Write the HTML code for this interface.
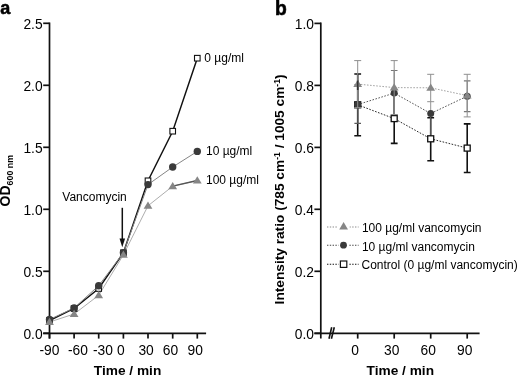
<!DOCTYPE html>
<html><head><meta charset="utf-8"><title>Figure</title>
<style>html,body{margin:0;padding:0;background:#fff}body{width:517px;height:375px;overflow:hidden}svg{display:block}text{font-family:"Liberation Sans", sans-serif;fill:#000}</style>
</head><body>
<svg width="517" height="375" viewBox="0 0 517 375">
<rect width="517" height="375" fill="#fff"/>
<text x="0.2" y="14.4" font-size="18" font-weight="bold" fill="#000" stroke="#000" stroke-width="0.5">a</text>
<g stroke="#111" stroke-width="1.7" fill="none">
<path d="M49.5 22.5V338.6"/>
<path d="M43.2 333.3H206.1"/>
<path d="M43.2 333.3H49.5"/>
<path d="M43.2 271.3H49.5"/>
<path d="M43.2 209.3H49.5"/>
<path d="M43.2 147.3H49.5"/>
<path d="M43.2 85.3H49.5"/>
<path d="M43.2 23.3H49.5"/>
<path d="M49.5 333.3V338.6"/>
<path d="M74.1 333.3V338.6"/>
<path d="M98.7 333.3V338.6"/>
<path d="M123.4 333.3V338.6"/>
<path d="M148.0 333.3V338.6"/>
<path d="M172.7 333.3V338.6"/>
<path d="M197.3 333.3V338.6"/>
</g>
<text x="42.6" y="338.8" font-size="13.8" text-anchor="end">0.0</text>
<text x="42.6" y="276.8" font-size="13.8" text-anchor="end">0.5</text>
<text x="42.6" y="214.8" font-size="13.8" text-anchor="end">1.0</text>
<text x="42.6" y="152.8" font-size="13.8" text-anchor="end">1.5</text>
<text x="42.6" y="90.8" font-size="13.8" text-anchor="end">2.0</text>
<text x="42.6" y="28.8" font-size="13.8" text-anchor="end">2.5</text>
<text x="49.5" y="354.8" font-size="13.8" text-anchor="middle">-90</text>
<text x="78.0" y="354.8" font-size="13.8" text-anchor="middle">-60</text>
<text x="103.0" y="354.8" font-size="13.8" text-anchor="middle">-30</text>
<text x="120.9" y="354.8" font-size="13.8" text-anchor="middle">0</text>
<text x="146.1" y="354.8" font-size="13.8" text-anchor="middle">30</text>
<text x="170.4" y="354.8" font-size="13.8" text-anchor="middle">60</text>
<text x="195.2" y="354.8" font-size="13.8" text-anchor="middle">90</text>
<text x="93.8" y="374.5" font-size="13.7" font-weight="bold">Time / min</text>
<text transform="translate(10.1,206.4) rotate(-90)" font-size="14" font-weight="bold">OD<tspan font-size="8.9" dy="3.1">600 nm</tspan></text>
<polyline points="49.5,320.5 74.1,308.5 98.7,288.5 123.4,252.8 148.0,180.8 172.7,131.2 197.3,58.2" fill="none" stroke="#111" stroke-width="1.45"/>
<polyline points="49.5,319.5 74.1,308.0 98.7,285.7 123.4,252.8 148.0,184.6 172.7,167.0 197.3,151.4" fill="none" stroke="#858585" stroke-width="1"/>
<polyline points="49.5,322.0 74.1,314.0 98.7,295.3 123.4,254.8 148.0,205.8 172.7,186.2 197.3,180.5" fill="none" stroke="#a4a4a4" stroke-width="0.9"/>
<path d="M172.7 186.2L197.3 180.5" stroke="#555" stroke-width="1.3" fill="none"/>
<rect x="46.7" y="317.7" width="5.6" height="5.6" fill="#fff" stroke="#111" stroke-width="1.1"/>
<rect x="71.3" y="305.7" width="5.6" height="5.6" fill="#fff" stroke="#111" stroke-width="1.1"/>
<rect x="95.9" y="285.7" width="5.6" height="5.6" fill="#fff" stroke="#111" stroke-width="1.1"/>
<rect x="120.6" y="250.0" width="5.6" height="5.6" fill="#fff" stroke="#111" stroke-width="1.1"/>
<rect x="145.2" y="178.0" width="5.6" height="5.6" fill="#fff" stroke="#111" stroke-width="1.1"/>
<rect x="169.9" y="128.4" width="5.6" height="5.6" fill="#fff" stroke="#111" stroke-width="1.1"/>
<rect x="194.5" y="55.4" width="5.6" height="5.6" fill="#fff" stroke="#111" stroke-width="1.1"/>
<circle cx="49.5" cy="319.5" r="3.7" fill="#3a3a3a"/>
<circle cx="74.1" cy="308.0" r="3.7" fill="#3a3a3a"/>
<circle cx="98.7" cy="285.7" r="3.7" fill="#3a3a3a"/>
<circle cx="123.4" cy="252.8" r="3.7" fill="#3a3a3a"/>
<circle cx="148.0" cy="184.6" r="3.7" fill="#3a3a3a"/>
<circle cx="172.7" cy="167.0" r="3.7" fill="#3a3a3a"/>
<circle cx="197.3" cy="151.4" r="3.7" fill="#3a3a3a"/>
<path d="M49.5 317.7L53.9 325.0H45.1Z" fill="#868686"/>
<path d="M74.1 309.7L78.5 317.0H69.7Z" fill="#868686"/>
<path d="M98.7 291.0L103.1 298.3H94.3Z" fill="#868686"/>
<path d="M123.4 250.5L127.8 257.8H119.0Z" fill="#868686"/>
<path d="M148.0 201.5L152.4 208.8H143.6Z" fill="#868686"/>
<path d="M172.7 181.9L177.1 189.2H168.3Z" fill="#868686"/>
<path d="M197.3 176.2L201.7 183.5H192.9Z" fill="#868686"/>
<text x="204.3" y="61.6" font-size="12">0 µg/ml</text>
<text x="206" y="154.6" font-size="12">10 µg/ml</text>
<text x="206" y="184.1" font-size="12">100 µg/ml</text>
<text x="62.3" y="200.6" font-size="12">Vancomycin</text>
<path d="M122.3 207.8V240" stroke="#111" stroke-width="1.5" fill="none"/>
<path d="M119.5 238.4H125.1L122.3 247.2Z" fill="#111"/>
<text x="275.1" y="14.5" font-size="19.3" font-weight="bold" fill="#000" stroke="#000" stroke-width="0.55">b</text>
<g stroke="#111" stroke-width="1.7" fill="none">
<path d="M320.8 22.5V338.6"/>
<path d="M314.4 333.3H479.6"/>
<path d="M314.4 333.3H320.8"/>
<path d="M314.4 271.3H320.8"/>
<path d="M314.4 209.3H320.8"/>
<path d="M314.4 147.4H320.8"/>
<path d="M314.4 85.4H320.8"/>
<path d="M314.4 23.4H320.8"/>
<path d="M357.7 333.3V338.6"/>
<path d="M394.2 333.3V338.6"/>
<path d="M430.7 333.3V338.6"/>
<path d="M467.2 333.3V338.6"/>
</g>
<g stroke="#111" stroke-width="1.6" fill="none"><path d="M329 338.8L331.7 327.2"/><path d="M331.4 338.8L334.3 327.2"/></g>
<text x="314" y="338.8" font-size="13.8" text-anchor="end">0.0</text>
<text x="314" y="276.8" font-size="13.8" text-anchor="end">0.2</text>
<text x="314" y="214.8" font-size="13.8" text-anchor="end">0.4</text>
<text x="314" y="152.9" font-size="13.8" text-anchor="end">0.6</text>
<text x="314" y="90.9" font-size="13.8" text-anchor="end">0.8</text>
<text x="314" y="28.9" font-size="13.8" text-anchor="end">1.0</text>
<text x="355.2" y="354.8" font-size="13.8" text-anchor="middle">0</text>
<text x="391.7" y="354.8" font-size="13.8" text-anchor="middle">30</text>
<text x="428.2" y="354.8" font-size="13.8" text-anchor="middle">60</text>
<text x="464.7" y="354.8" font-size="13.8" text-anchor="middle">90</text>
<text x="366.6" y="374.5" font-size="13.7" font-weight="bold">Time / min</text>
<text transform="translate(284.1,304.4) rotate(-90)" font-size="13.7" font-weight="bold">Intensity ratio (785 cm<tspan font-size="8.7" dy="-4.5">-1</tspan><tspan dy="4.5"> / 1005 cm</tspan><tspan font-size="8.7" dy="-4.5">-1</tspan><tspan dy="4.5">)</tspan></text>
<path d="M357.7 74.0V135.8M354.3 74.0H361.1M354.3 135.8H361.1" stroke="#111" stroke-width="1.6" fill="none"/>
<path d="M394.2 93.8V143.4M390.8 93.8H397.6M390.8 143.4H397.6" stroke="#111" stroke-width="1.6" fill="none"/>
<path d="M430.7 117.8V160.8M427.3 117.8H434.1M427.3 160.8H434.1" stroke="#111" stroke-width="1.6" fill="none"/>
<path d="M467.2 123.9V172.5M463.8 123.9H470.6M463.8 172.5H470.6" stroke="#111" stroke-width="1.6" fill="none"/>
<polyline points="357.7,104.8 394.2,118.6 430.7,138.8 467.2,148.1" fill="none" stroke="#111" stroke-width="0.9" stroke-dasharray="1.6 1.5"/>
<rect x="354.7" y="101.8" width="6.0" height="6.0" fill="#fff" stroke="#111" stroke-width="1.3"/>
<rect x="391.2" y="115.6" width="6.0" height="6.0" fill="#fff" stroke="#111" stroke-width="1.3"/>
<rect x="427.7" y="135.8" width="6.0" height="6.0" fill="#fff" stroke="#111" stroke-width="1.3"/>
<rect x="464.2" y="145.1" width="6.0" height="6.0" fill="#fff" stroke="#111" stroke-width="1.3"/>
<path d="M357.7 84.8V123.4M354.4 84.8H361.0M354.4 123.4H361.0" stroke="#5a5a5a" stroke-width="1.1" fill="none"/>
<path d="M394.2 70.5V114.5M390.9 70.5H397.5M390.9 114.5H397.5" stroke="#777" stroke-width="1.1" fill="none"/>
<path d="M430.7 101.7V135" stroke="#777" stroke-width="0.8" fill="none"/>
<path d="M467.2 80.9V111.6M463.9 80.9H470.5M463.9 111.6H470.5" stroke="#777" stroke-width="1.1" fill="none"/>
<polyline points="357.7,104.6 394.2,93.1 430.7,113.5 467.2,96.2" fill="none" stroke="#444" stroke-width="0.9" stroke-dasharray="1.6 1.5"/>
<circle cx="357.7" cy="104.6" r="3.5" fill="#3a3a3a"/>
<circle cx="394.2" cy="93.1" r="3.5" fill="#3a3a3a"/>
<circle cx="430.7" cy="113.5" r="3.5" fill="#3a3a3a"/>
<circle cx="467.2" cy="96.2" r="3.5" fill="#3a3a3a"/>
<path d="M357.7 60.6V107.6M354.2 60.6H361.2M354.2 107.6H361.2" stroke="#8f8f8f" stroke-width="1.0" fill="none"/>
<path d="M394.2 60.6V114.6M390.7 60.6H397.7M390.7 114.6H397.7" stroke="#8f8f8f" stroke-width="1.0" fill="none"/>
<path d="M430.7 74.3V101.7M427.2 74.3H434.2M427.2 101.7H434.2" stroke="#8f8f8f" stroke-width="1.0" fill="none"/>
<path d="M467.2 74.3V116.9M463.7 74.3H470.7M463.7 116.9H470.7" stroke="#8f8f8f" stroke-width="1.0" fill="none"/>
<polyline points="357.7,84.1 394.2,87.6 430.7,87.8 467.2,95.6" fill="none" stroke="#999" stroke-width="0.9" stroke-dasharray="1.6 1.5"/>
<path d="M357.7 79.8L362.1 87.1H353.3Z" fill="#868686"/>
<path d="M394.2 83.3L398.6 90.6H389.8Z" fill="#868686"/>
<path d="M430.7 83.5L435.1 90.8H426.3Z" fill="#868686"/>
<path d="M467.2 91.3L471.6 98.6H462.8Z" fill="#868686"/>
<path d="M357.7 80.5V90" stroke="#333" stroke-width="1.6" fill="none"/>
<path d="M327 227.0H358.6" stroke="#8a8a8a" stroke-width="1.1" stroke-dasharray="1.4 1.4" fill="none"/>
<path d="M327 245.2H358.6" stroke="#444" stroke-width="1.1" stroke-dasharray="1.4 1.4" fill="none"/>
<path d="M327 264.2H358.6" stroke="#111" stroke-width="1.1" stroke-dasharray="1.4 1.4" fill="none"/>
<rect x="337.5" y="221" width="12" height="12" fill="#fff"/>
<rect x="338.5" y="240" width="10" height="10" fill="#fff"/>
<rect x="338.5" y="259" width="10" height="10" fill="#fff"/>
<path d="M343.6 222.1L348.0 229.4H339.2Z" fill="#868686"/>
<circle cx="343.5" cy="245.2" r="3.4" fill="#3a3a3a"/>
<rect x="340.4" y="261.0" width="6.4" height="6.4" fill="#fff" stroke="#111" stroke-width="1.2"/>
<text x="361.9" y="232.1" font-size="12">100 µg/ml vancomycin</text>
<text x="361.9" y="250.8" font-size="12">10 µg/ml vancomycin</text>
<text x="361.5" y="269.2" font-size="12">Control (0 µg/ml vancomycin)</text>
</svg>
</body></html>
